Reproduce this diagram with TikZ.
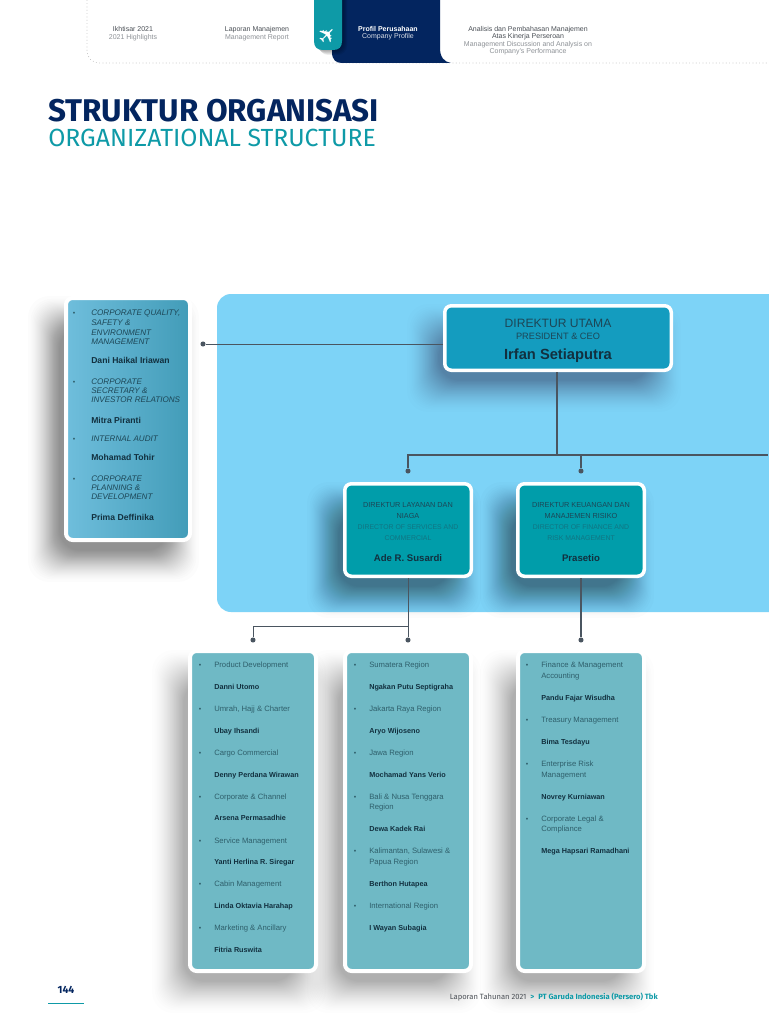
\documentclass[tikz,border=0pt]{standalone}
\usepackage{fontspec}
\setmainfont{Liberation Sans}
\newfontfamily\titlefont{Fira Sans}
\newfontfamily\symfont{DejaVu Sans}
\usetikzlibrary{calc}
\definecolor{navy}{HTML}{03255F}
\definecolor{teal}{HTML}{0E9AA7}
\definecolor{panel}{HTML}{7DD3F7}
\definecolor{ceofill}{HTML}{149CBF}
\definecolor{dirfill}{HTML}{009DAA}
\definecolor{subfill}{HTML}{6FB9C5}
\definecolor{leftA}{HTML}{6FBEDC}
\definecolor{leftB}{HTML}{429CB8}
\definecolor{linecol}{HTML}{4A5560}
\definecolor{inkdark}{HTML}{12303F}
\definecolor{inklab}{HTML}{2F5F6B}
\definecolor{inklab2}{HTML}{1D4656}
\definecolor{dirsub}{HTML}{117583}
\definecolor{headdark}{HTML}{4A4F55}
\definecolor{headlight}{HTML}{8E9297}
\newcommand\fs[1]{\fontsize{\fpeval{#1*0.75}}{\fpeval{#1*0.9}}\selectfont}
\newcount\tn
\newcommand\Tx[4]{\global\advance\tn by 1 \node[#1,name=t\the\tn] at (#2,#3) {#4};}
\newcommand\Lb[3]{\Tx{sublabel}{#1}{#2}{#3}}
\newcommand\Nm[3]{\Tx{subname}{#1}{#2}{#3}}
\newcommand\Bu[2]{\Tx{bulletmark}{#1}{#2}{•}}
\newcommand\Shadow[5]{% x1 y1 x2 y2 opacity
  \foreach \i in {0,...,39}{
    \pgfmathsetmacro\d{32*(\i/40)^(0.67)}
    \fill[black,opacity=#5,rounded corners=16]
      ({#1-36+\d},{#2+\d}) rectangle ({#3+8-\d},{#4+40-\d});
  }}
\newcommand\Card[7]{% name x1 y1 x2 y2 border-width style
  \node[cardbox,#7,line width={#6*0.75pt},inner sep=0pt,
    minimum width={(#4-#2-#6)*0.75pt},minimum height={(#5-#3-#6)*0.75pt}]
    (#1) at ({(#2+#4)/2},{(#3+#5)/2}) {};}
\tikzset{
  cardbox/.style={draw=white,rounded corners=5pt},
  sublabel/.style={anchor=mid west,inner sep=0pt,text=inklab,font=\fs{7.7}},
  subname/.style={anchor=mid west,inner sep=0pt,text=inkdark,font=\fs{7.25}\bfseries},
  bulletmark/.style={anchor=mid,inner sep=0pt,text=inklab,font=\fs{7}},
  leftlabel/.style={anchor=mid west,inner sep=0pt,text=inklab2,font=\fs{8.1}\itshape},
  leftname/.style={anchor=mid west,inner sep=0pt,text=inkdark,font=\fs{8.6}\bfseries},
  dirtitle/.style={anchor=mid,inner sep=0pt,text=inklab2,font=\fs{7.3}},
  dirtrans/.style={anchor=mid,inner sep=0pt,text=dirsub,font=\fs{6.9}},
  dirname/.style={anchor=mid,inner sep=0pt,text=inkdark,font=\fs{9.6}\bfseries},
  headA/.style={anchor=mid,inner sep=0pt,text=headdark,font=\fs{7}},
  headB/.style={anchor=mid,inner sep=0pt,text=headlight,font=\fs{7}},
  dotmark/.style={circle,fill=linecol,inner sep=0pt,minimum size=3.8pt},
  thick link/.style={draw=linecol,line width=1.15pt},
  thin link/.style={draw=linecol,line width=0.65pt},
}
\begin{document}
\begin{tikzpicture}[x=0.75pt,y=-0.75pt]
\useasboundingbox (0,0) rectangle (768,1024);
\fill[white] (0,0) rectangle (768,1024);
% header
\draw[gray!60,line width=0.5pt,dotted] (87,0) -- (87,50) .. controls (87,58) and (92,63) .. (100,63) -- (768,63);
\fill[navy] (332,0) -- (332,52) .. controls (332,60) and (336,63) .. (342,63) -- (451,63) .. controls (444,62) and (440,57) .. (440,48) -- (440,0) -- cycle;
\foreach \i in {1,...,5}{\fill[black,opacity=0.07,rounded corners=7] (314+\i,-10) rectangle (342+\i,50+\i);}
\fill[teal] (314,0) -- (342,0) -- (342,41) .. controls (342,47) and (339,50) .. (333,50) -- (323,50) .. controls (317,50) and (314,47) .. (314,41) -- cycle;
\node[rotate=45,text=white,inner sep=0pt,font=\symfont\fs{22}] (plane) at (328,35) {✈};
\Tx{headA}{133}{28}{Ikhtisar 2021}
\Tx{headB}{133}{36}{2021 Highlights}
\Tx{headA}{257}{28}{Laporan Manajemen}
\Tx{headB}{257}{36}{Management Report}
\Tx{headA,text=white,font=\fs{7}\bfseries}{388}{28}{Profil Perusahaan}
\Tx{headB,text=white!85!navy}{388}{35}{Company Profile}
\Tx{headA}{528}{28}{Analisis dan Pembahasan Manajemen}
\Tx{headA}{528}{35}{Atas Kinerja Perseroan}
\Tx{headB}{528}{43}{Management Discussion and Analysis on}
\Tx{headB}{528}{50}{Company's Performance}
% title
\node[anchor=mid west,inner sep=0pt,text=navy,font=\titlefont\fs{31.4}\bfseries] (title) at (48,118) {STRUKTUR ORGANISASI};
\node[anchor=mid west,inner sep=0pt,text=teal,font=\titlefont\fs{24.8}] (subtitle) at (48,143) {ORGANIZATIONAL STRUCTURE};
% panel
\fill[panel,rounded corners=10.5pt] (217,294) -- (217,612) -- (800,612) -- (800,294) -- cycle;
% shadows
\Shadow{64}{296}{191}{542}{0.011}
\Shadow{443}{304}{673}{372}{0.009}
\Shadow{343}{482}{473}{578}{0.010}
\Shadow{516}{482}{646}{578}{0.010}
\Shadow{188}{650}{318}{973}{0.007}
\Shadow{343}{650}{473}{973}{0.007}
\Shadow{516}{650}{646}{973}{0.007}
% junctions and end dots
\coordinate (jctr) at (557,455);
\coordinate (jend) at (768,455);
\node[dotmark] (d0) at (203,344) {};
\node[dotmark] (d1) at (408,471) {};
\node[dotmark] (d2) at (581,471) {};
\node[dotmark] (d3) at (253,640) {};
\node[dotmark] (d4) at (408,640) {};
\node[dotmark] (d5) at (581,640) {};
\coordinate (jlow) at (408,626);
% boxes
\Card{left}{64}{296}{192}{542}{4}{left color=leftA,right color=leftB}
\Card{ceo}{443}{304}{673}{372}{3.5}{fill=ceofill}
\Card{dira}{343}{482}{473}{578}{3.5}{fill=dirfill}
\Card{dirb}{516}{482}{646}{578}{3.5}{fill=dirfill}
\Card{suba}{188}{649}{318}{973}{4}{fill=subfill}
\Card{subb}{343}{649}{473}{973}{4}{fill=subfill}
\Card{subc}{516}{649}{646}{973}{4}{fill=subfill}
% connectors
\draw[thin link] (d0) -- (d0 -| ceo.west);
\draw[thick link] (ceo.south -| jctr) -- (jctr);
\draw[thick link] (d1) -- (d1 |- jctr) -- (jend);
\draw[thick link] (d2) -- (d2 |- jctr);
\draw[thin link] (dira.south -| d4) -- (d4);
\draw[thin link] (d3) -- (d3 |- jlow) -- (jlow);
\draw[thick link] (dirb.south -| d5) -- (d5);
% ceo text
\Tx{anchor=mid,inner sep=0pt,text=inklab2,font=\fs{12.1}}{558}{324}{DIREKTUR UTAMA}
\Tx{anchor=mid,inner sep=0pt,text=inklab2,font=\fs{9.2}}{558}{336}{PRESIDENT \& CEO}
\Tx{anchor=mid,inner sep=0pt,text=inkdark,font=\fs{14.7}\bfseries}{558}{356}{Irfan Setiaputra}
% director a
\Tx{dirtitle}{408}{504}{DIREKTUR LAYANAN DAN}
\Tx{dirtitle}{408}{515}{NIAGA}
\Tx{dirtrans}{408}{526}{DIRECTOR OF SERVICES AND}
\Tx{dirtrans}{408}{537}{COMMERCIAL}
\Tx{dirname}{408}{558}{Ade R. Susardi}
% director b
\Tx{dirtitle}{581}{504}{DIREKTUR KEUANGAN DAN}
\Tx{dirtitle}{581}{515}{MANAJEMEN RISIKO}
\Tx{dirtrans}{581}{526}{DIRECTOR OF FINANCE AND}
\Tx{dirtrans}{581}{537}{RISK MANAGEMENT}
\Tx{dirname}{581}{558}{Prasetio}
% left box
\Bu{74}{312}\Bu{74}{381}\Bu{74}{438}\Bu{74}{478}
\Tx{leftlabel}{91}{312}{CORPORATE QUALITY,}
\Tx{leftlabel}{91}{322}{SAFETY \&}
\Tx{leftlabel}{91}{332}{ENVIRONMENT}
\Tx{leftlabel}{91}{341}{MANAGEMENT}
\Tx{leftname}{91}{360}{Dani Haikal Iriawan}
\Tx{leftlabel}{91}{381}{CORPORATE}
\Tx{leftlabel}{91}{390}{SECRETARY \&}
\Tx{leftlabel}{91}{399}{INVESTOR RELATIONS}
\Tx{leftname}{91}{420}{Mitra Piranti}
\Tx{leftlabel}{91}{438}{INTERNAL AUDIT}
\Tx{leftname}{91}{457}{Mohamad Tohir}
\Tx{leftlabel}{91}{478}{CORPORATE}
\Tx{leftlabel}{91}{487}{PLANNING \&}
\Tx{leftlabel}{91}{496}{DEVELOPMENT}
\Tx{leftname}{91}{517}{Prima Deffinika}
% column a
\Bu{200}{664}\Bu{200}{708}\Bu{200}{752}\Bu{200}{796}\Bu{200}{840}\Bu{200}{883}\Bu{200}{927}
\Lb{214}{664}{Product Development}
\Nm{214}{686}{Danni Utomo}
\Lb{214}{708}{Umrah, Hajj \& Charter}
\Nm{214}{730}{Ubay Ihsandi}
\Lb{214}{752}{Cargo Commercial}
\Nm{214}{774}{Denny Perdana Wirawan}
\Lb{214}{796}{Corporate \& Channel}
\Nm{214}{817}{Arsena Permasadhie}
\Lb{214}{840}{Service Management}
\Nm{214}{861}{Yanti Herlina R. Siregar}
\Lb{214}{883}{Cabin Management}
\Nm{214}{905}{Linda Oktavia Harahap}
\Lb{214}{927}{Marketing \& Ancillary}
\Nm{214}{949}{Fitria Ruswita}
% column b
\Bu{355}{664}\Bu{355}{708}\Bu{355}{752}\Bu{355}{796}\Bu{355}{850}\Bu{355}{905}
\Lb{369}{664}{Sumatera Region}
\Nm{369}{686}{Ngakan Putu Septigraha}
\Lb{369}{708}{Jakarta Raya Region}
\Nm{369}{730}{Aryo Wijoseno}
\Lb{369}{752}{Jawa Region}
\Nm{369}{774}{Mochamad Yans Verio}
\Lb{369}{796}{Bali \& Nusa Tenggara}
\Lb{369}{806}{Region}
\Nm{369}{828}{Dewa Kadek Rai}
\Lb{369}{850}{Kalimantan, Sulawesi \&}
\Lb{369}{861}{Papua Region}
\Nm{369}{883}{Berthon Hutapea}
\Lb{369}{905}{International Region}
\Nm{369}{927}{I Wayan Subagia}
% column c
\Bu{527}{664}\Bu{527}{719}\Bu{527}{763}\Bu{527}{818}
\Lb{541}{664}{Finance \& Management}
\Lb{541}{675}{Accounting}
\Nm{541}{697}{Pandu Fajar Wisudha}
\Lb{541}{719}{Treasury Management}
\Nm{541}{741}{Bima Tesdayu}
\Lb{541}{763}{Enterprise Risk}
\Lb{541}{774}{Management}
\Nm{541}{796}{Novrey Kurniawan}
\Lb{541}{818}{Corporate Legal \&}
\Lb{541}{828}{Compliance}
\Nm{541}{850}{Mega Hapsari Ramadhani}
% footer
\node[anchor=mid,inner sep=0pt,text=navy,font=\titlefont\fs{10.5}\bfseries] (pageno) at (66,990) {144};
\coordinate (ruleA) at (48,1003);
\coordinate (ruleB) at (84,1003);
\draw[teal,line width=0.7pt] (ruleA) -- (ruleB);
\node[anchor=mid east,inner sep=0pt,font=\titlefont\fs{7.6}] (foot) at (658,996) {\textcolor{headdark}{Laporan Tahunan 2021}\hspace{3pt}\textcolor{teal}{\bfseries >}\hspace{3pt}\textcolor{teal}{\bfseries PT Garuda Indonesia (Persero) Tbk}};
\end{tikzpicture}
\end{document}
